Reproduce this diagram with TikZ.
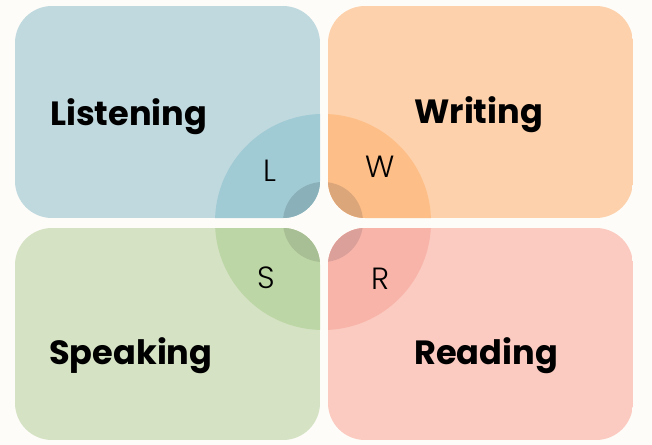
\documentclass[tikz,border=0pt]{standalone}
\usepackage{fontspec}
\newfontfamily\headfont{Poppins Bold}
\newfontfamily\letterfont{Poppins Light}
\usetikzlibrary{positioning}
\definecolor{bgcol}{HTML}{FEFCF8}
\definecolor{listen}{HTML}{BFD9DE}
\definecolor{listenA}{HTML}{A0CAD4}
\definecolor{listenB}{HTML}{8AB1B9}
\definecolor{write}{HTML}{FDD1AB}
\definecolor{writeA}{HTML}{FDBE88}
\definecolor{writeB}{HTML}{DCA67B}
\definecolor{speak}{HTML}{D5E3C4}
\definecolor{speakA}{HTML}{BDD6A6}
\definecolor{speakB}{HTML}{A8BE94}
\definecolor{read}{HTML}{FBCAC0}
\definecolor{readA}{HTML}{F8B4A9}
\definecolor{readB}{HTML}{DCA09A}

\begin{document}
\begin{tikzpicture}[x=0.75pt,y=-0.75pt,
    quad/.style={rounded corners=27.75pt},
    skill/.style={font=\headfont\fontsize{25.2}{30}\selectfont, anchor=base west, inner sep=0pt},
    initial/.style={font=\letterfont\fontsize{23}{27}\selectfont, anchor=base, inner sep=0pt}]
        \fill[bgcol] (0,0) rectangle (652,445);
        \foreach \xa/\ya/\xb/\yb/\col in {15/6/320/218/listen, 328/6/633/218/write, 15/228/320/440/speak, 328/228/633/440/read}{
            \begin{scope}
                \clip[quad] (\xa,\ya) rectangle (\xb,\yb);
                \fill[fill=\col] (\xa,\ya) rectangle (\xb,\yb);
                \fill[fill=\col A] (323,222) circle (108);
                \fill[fill=\col B] (323,222) circle (40);
            \end{scope}
        }
        \node[skill] (listening) at (50,126) {Listening};
        \node[skill] (writing) at (414,124) {Writing};
        \node[skill] (speaking) at (49,364) {Speaking};
        \node[skill] (reading) at (414,364) {Reading};
        \node[initial] (l) at (270,182) {L};
        \node[initial] (w) at (380,178) {W};
        \node[initial] (s) at (266,288) {S};
        \node[initial] (r) at (380,289) {R};
\end{tikzpicture}
\end{document}
